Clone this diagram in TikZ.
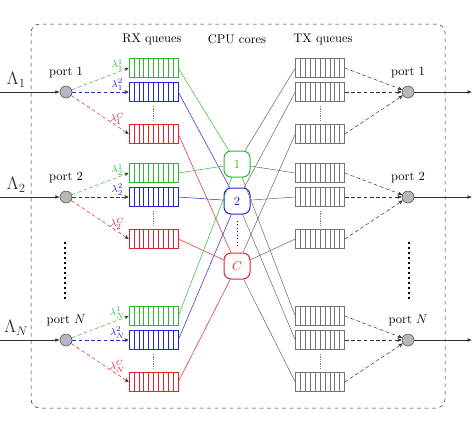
\documentclass[tikz,border=0pt]{standalone}
\usepackage{amssymb,amsmath}
\usetikzlibrary{calc,arrows.meta}

\definecolor{qgreen}{RGB}{45,185,45}
\definecolor{qblue}{RGB}{35,35,215}
\definecolor{qred}{RGB}{225,35,45}

\begin{document}
\begin{tikzpicture}[x=0.8pt, y=-0.8pt,
  port/.style={circle, draw=black!75, fill=black!28, minimum size=9.6pt, inner sep=0pt},
  queue/.style={draw=#1, minimum width=39.2pt, minimum height=15.2pt, inner sep=0pt,
    path picture={\foreach \k in {1,...,9}
      \draw[#1] ($(path picture bounding box.south west)!\k/10!(path picture bounding box.south east)$)
        -- ($(path picture bounding box.north west)!\k/10!(path picture bounding box.north east)$);}},
  core/.style={draw=#1, text=#1, thick, rounded corners=5.6pt, minimum size=20.8pt, inner sep=0pt},
  flow/.style={densely dashed, #1, -{Stealth[length=3.5pt, width=3pt, black!80]}},
  txflow/.style={densely dashed, black!80, -{Stealth[length=3.5pt, width=3pt]}},
  link/.style={black!80, -{Latex[length=3.5pt, width=2.8pt]}},
  bigdots/.style={line width=1.2pt, dash pattern=on 1.2pt off 2.8pt},
  smalldots/.style={densely dotted, black!50}]

		\useasboundingbox (0,0) rectangle (474,426);

		% switch frame
		\draw[dashed, black!85, rounded corners=7pt] (31,24) rectangle (445,408);

		\node (rxhead) at (152,39) {RX queues};
		\node (cpuhead) at (237,39) {CPU cores};
		\node (txhead) at (323,39) {TX queues};

		% cpu cores
		\node[core=qgreen] (core1) at (237,164) {1};
		\node[core=qblue] (core2) at (237,201) {2};
		\node[core=qred] (core3) at (237,266) {$C$};
		\draw[dotted, thick] ($(core2.south)+(0,6)$) -- ($(core3.north)+(0,-4)$);

		% ports and queues
		\foreach \p/\y/\s in {1/92/1, 2/197/2, 3/340/N} {
			\coordinate (in\p) at (0,\y);
			\coordinate (out\p) at (472,\y);
			\node[port, label={[label distance=3pt]above:port $\s$}] (pin\p) at (66,\y) {};
			\node[port, label={[label distance=3pt]above:port $\s$}] (pout\p) at (408,\y) {};
			\draw[link] (in\p) -- node[above, pos=.27, font=\Large] {$\Lambda_{\s}$} (pin\p);
			\draw[link] (pout\p) -- (out\p);

			\foreach \q/\dy/\c/\l in {1/-24/qgreen/1, 2/0/qblue/2, 3/42/qred/C} {
				\node[queue=\c] (rx\p-\q) at (153.5,\y+\dy) {};
				\node[queue=black!55] (tx\p-\q) at (320,\y+\dy) {};
				\draw[flow=\c] (pin\p) -- node[pos=.8, above, inner sep=1pt, text=\c, font=\footnotesize] {$\lambda_{\s}^{\l}$} (rx\p-\q.west);
				\draw[\c] (rx\p-\q.east) -- (core\q);
				\draw[black!60] (core\q) -- (tx\p-\q.west);
				\draw[txflow] (tx\p-\q.east) -- (pout\p);
			}
			\draw[smalldots] ($(rx\p-2.south)+(0,4)$) -- ($(rx\p-3.north)+(0,-3)$);
			\draw[smalldots] ($(tx\p-2.south)+(0,4)$) -- ($(tx\p-3.north)+(0,-3)$);
		}

		\draw[bigdots] (65,242) -- (65,300);
		\draw[bigdots] (409,242) -- (409,300);

\end{tikzpicture}
\end{document}
